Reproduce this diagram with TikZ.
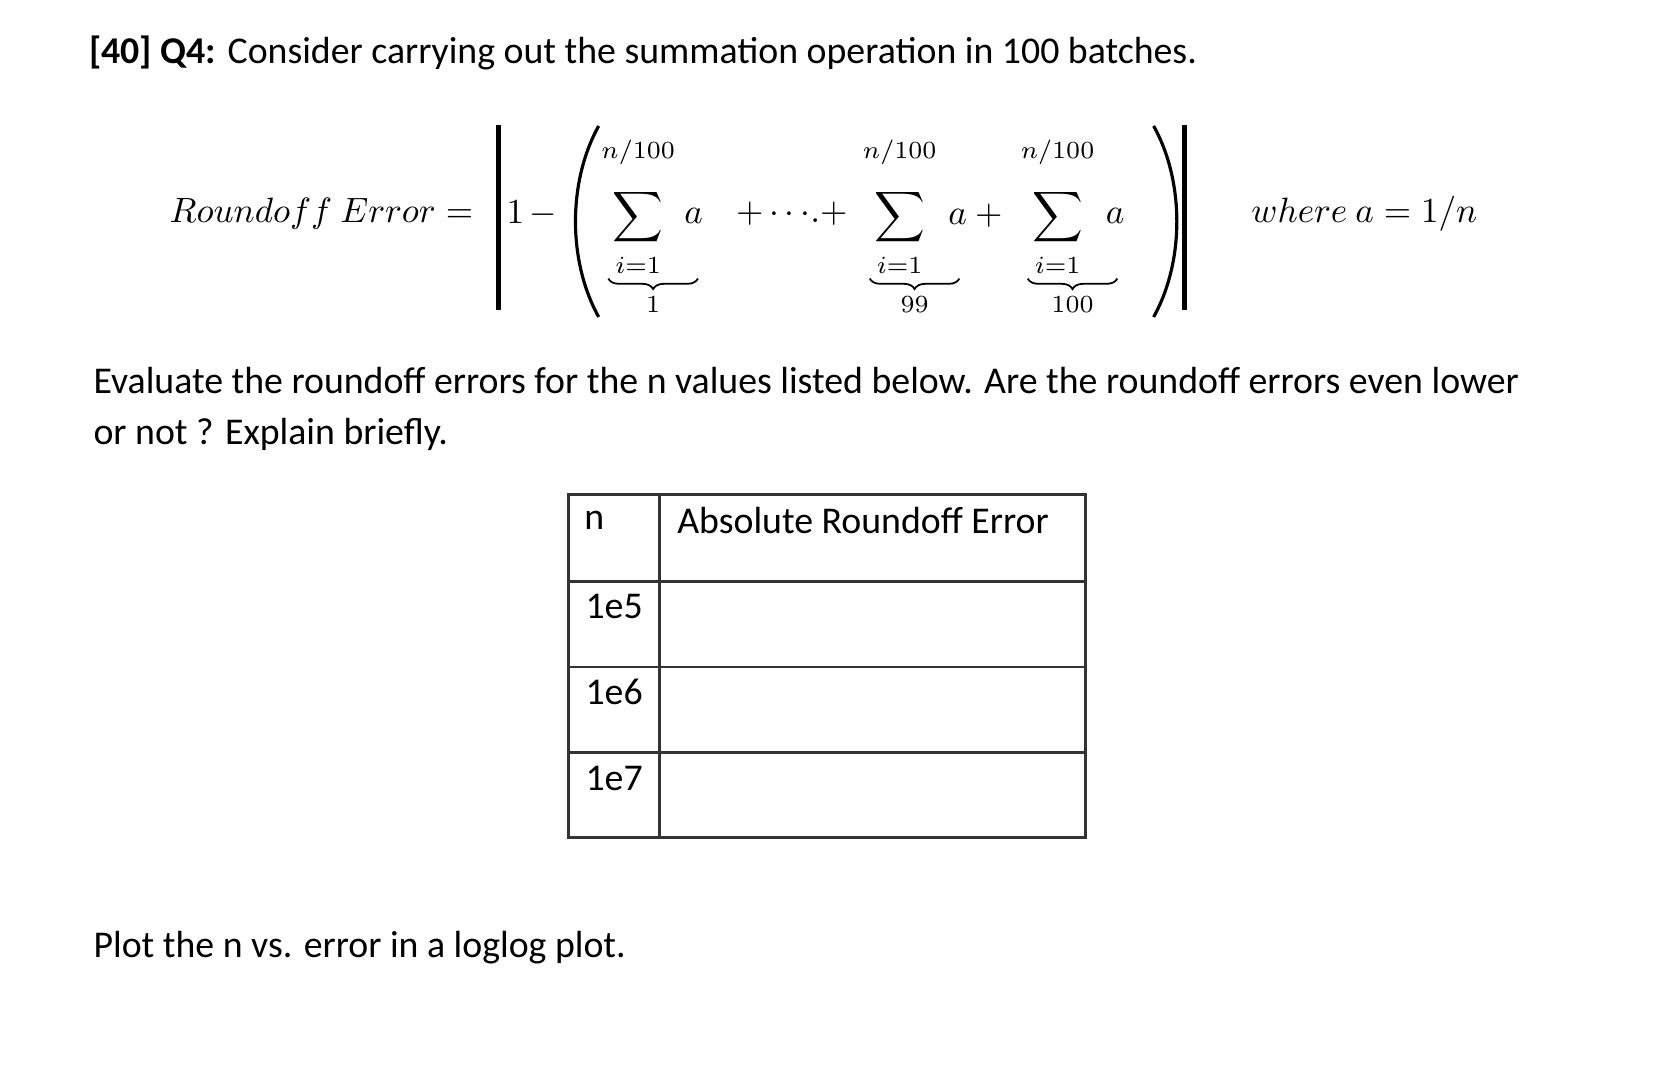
\documentclass[tikz,border=0pt]{standalone}
\usepackage{fontspec}
\setmainfont{Carlito}
\usetikzlibrary{decorations.pathreplacing}
\begin{document}
\begin{tikzpicture}[x=0.010672cm,y=-0.010672cm,
  txt/.style={font=\fontsize{10.75pt}{13pt}\selectfont,inner sep=0pt},
  eq/.style={font=\fontsize{10.3pt}{12pt}\selectfont,inner sep=0pt},
  lim/.style={font=\fontsize{7.2pt}{8pt}\selectfont,inner sep=0pt},
  brc/.style={decorate,decoration={brace,mirror,amplitude=3pt},line width=0.5pt},
  tb/.style={line width=0.8pt,draw=black!80}]
\useasboundingbox (0,0) rectangle (1563,1001);
\node[txt,anchor=west] (title) at (83,50) {\textbf{[40] Q4:} Consider carrying out the summation operation in 100 batches.};
% equation
\node[eq,anchor=east] (lhs) at (444,200) {$Roundoff\ Error=$};
\draw[line width=1.6pt] (467,117) -- (467,290);
\node[eq,anchor=west] (one) at (474,200) {$1\,-$};
\draw[line width=0.9pt] (561,118) .. controls (532,170) and (532,245) .. (561,297);
\draw[line width=0.9pt] (1081,118) .. controls (1110,170) and (1110,245) .. (1081,297);
\draw[line width=1.6pt] (1110,117) -- (1110,290);
\foreach \nm/\x/\lab in {s1/598/1, s2/843/99, s3/991/100}{
  \node[eq] (\nm) at (\x,203) {$\displaystyle\sum$};
  \node[lim] (\nm t) at (\x,143) {$n/100$};
  \node[lim] (\nm b) at (\x,249) {$i{=}1$};
  \coordinate (\nm l) at (\x-28,261);
  \coordinate (\nm r) at (\x+56,261);
  \draw[brc] (\nm l) -- (\nm r);
  \node[lim] (\nm n) at (\x+14,285) {$\lab$};
}
\node[eq] (a1) at (650,202) {$a$};
\node[eq] (dots) at (742,200) {$+\cdots\!.+$};
\node[eq] (a2) at (914,202) {$a\ +$};
\node[eq] (a3) at (1045,202) {$a$};
\node[eq,anchor=west] (where) at (1172,200) {$where\ a=1/n$};
% paragraph
\node[txt,anchor=west] (p1) at (87,357) {Evaluate the roundoff errors for the n values listed below. Are the roundoff errors even lower};
\node[txt,anchor=west] (p2) at (87,407) {or not ? Explain briefly.};
% table
\draw[tb] (533,463) rectangle (1017,785);
\foreach \y in {545,625,705} \draw[tb] (533,\y) -- (1017,\y);
\draw[tb] (618,463) -- (618,785);
\node[txt] (hn) at (557,488) {n};
\node[txt,anchor=west] (he) at (634,488) {Absolute Roundoff Error};
\node[txt,anchor=west] (r1) at (548,568) {1e5};
\node[txt,anchor=west] (r2) at (548,648) {1e6};
\node[txt,anchor=west] (r3) at (548,729) {1e7};
\node[txt,anchor=west] (plot) at (87,888) {Plot the n vs. error in a loglog plot.};
\end{tikzpicture}
\end{document}
